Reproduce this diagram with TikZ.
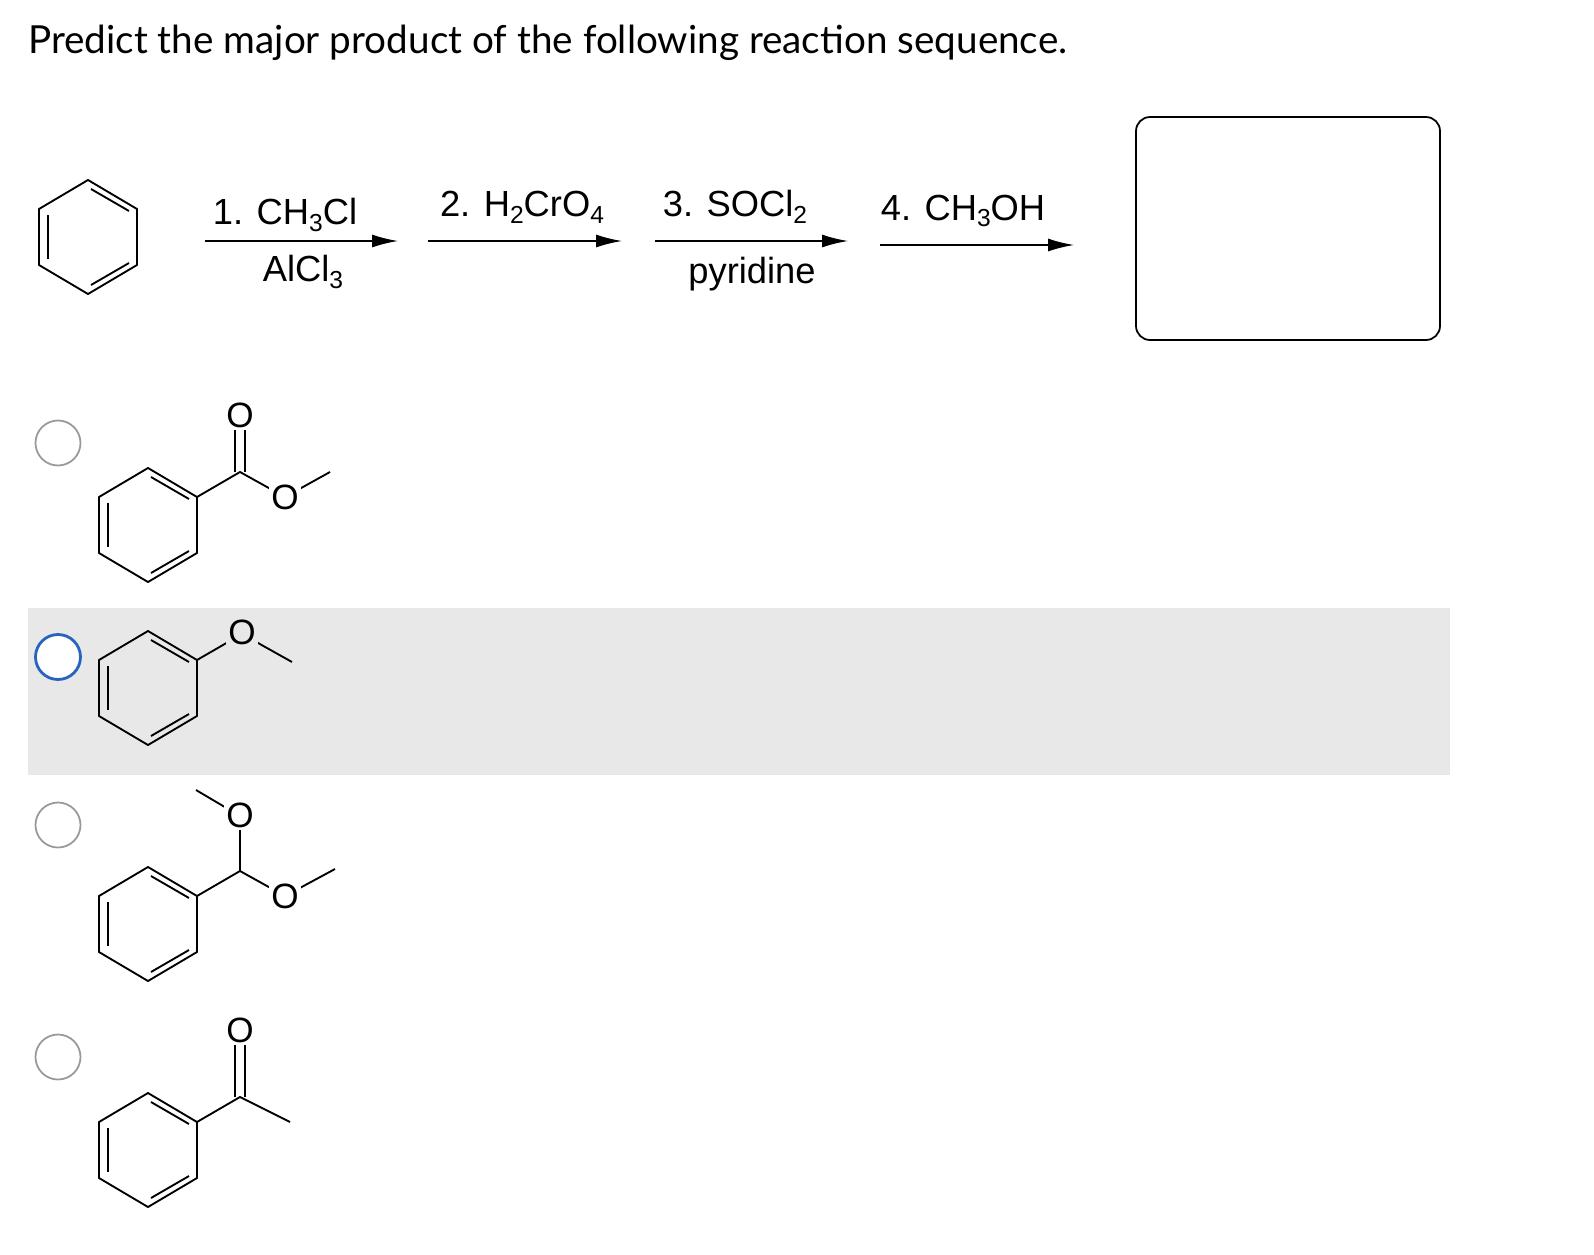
\documentclass[tikz,border=0pt]{standalone}
\usepackage{fontspec}
\setmainfont{Liberation Sans}
\newfontfamily\latofont{Lato}
\usetikzlibrary{arrows.meta}
\newcommand{\sbs}[1]{\raisebox{-0.35ex}{\fontsize{21}{23}\selectfont #1}}
\newcommand{\ringat}[2]{%
  \draw[bond] (#1+0,#2-57) -- (#1+49,#2-28) -- (#1+49,#2+28) -- (#1+0,#2+57) -- (#1-49,#2+28) -- (#1-49,#2-28) -- cycle;
  \draw[bond] (#1+3,#2-48) -- (#1+41,#2-26);
  \draw[bond] (#1-40,#2-22) -- (#1-40,#2+22);
  \draw[bond] (#1+3,#2+48) -- (#1+41,#2+26);
}
\begin{document}
\begin{tikzpicture}[x=0.03cm,y=-0.03cm,
  bond/.style={line width=1.6pt,line join=round},
  rxn/.style={line width=1.4pt,-{Latex[length=22pt,width=11pt]}},
  reag/.style={font=\fontsize{31}{34}\selectfont,inner sep=0pt},
  atom/.style={font=\fontsize{30}{32}\selectfont,inner sep=2pt,fill=white},
  radio/.style={draw=gray!80,line width=1.5pt,fill=white},
  ]
\useasboundingbox[fill=white] (0,0) rectangle (1594,1254);
\node[anchor=west,font=\latofont\fontsize{33}{38}\selectfont,inner sep=0pt] (title) at (28,43) {Predict the major product of the following reaction sequence.};
% reaction
\ringat{88}{237}
\coordinate (a1s) at (205,241); \coordinate (a1e) at (398,241);
\draw[rxn] (a1s) -- (a1e);
\node[reag] (r1a) at (285,215) {1. CH\sbs{3}Cl};
\node[reag] (r1b) at (303,272) {AlCl\sbs{3}};
\coordinate (a2s) at (428,241); \coordinate (a2e) at (622,241);
\draw[rxn] (a2s) -- (a2e);
\node[reag] (r2) at (522,207) {2. H\sbs{2}CrO\sbs{4}};
\coordinate (a3s) at (655,241); \coordinate (a3e) at (848,241);
\draw[rxn] (a3s) -- (a3e);
\node[reag] (r3a) at (735,207) {3. SOCl\sbs{2}};
\node[reag] (r3b) at (752,274) {pyridine};
\coordinate (a4s) at (880,245); \coordinate (a4e) at (1074,245);
\draw[rxn] (a4s) -- (a4e);
\node[reag] (r4) at (963,211) {4. CH\sbs{3}OH};
\draw[line width=1.5pt,rounded corners=12pt] (1136,117) rectangle (1440,340);
% band
\fill[gray!18] (28,608) rectangle (1450,775);
% radios
\node[radio,circle,minimum size=45*0.03cm] (c1) at (58,443) {};
\node[circle,draw={rgb,255:red,40;green,100;blue,190},line width=2.4pt,fill=white,minimum size=45*0.03cm] (c2) at (58,657) {};
\node[radio,circle,minimum size=45*0.03cm] (c3) at (58,825) {};
\node[radio,circle,minimum size=45*0.03cm] (c4) at (58,1057) {};
% option 1
\ringat{148}{525}
\draw[bond] (197,497) -- (240,472) -- (285,497) -- (330,472);
\draw[bond] (235,472) -- (235,430); \draw[bond] (245,472) -- (245,430);
\node[atom] (o1a) at (240,415) {O};
\node[atom] (o1b) at (285,497) {O};
% option 2
\ringat{148}{688}
\draw[bond] (197,660) -- (242,634) -- (292,662);
\node[atom,fill=gray!18] (o2) at (242,632) {O};
% option 3
\ringat{148}{924}
\draw[bond] (197,896) -- (240,871) -- (285,896) -- (335,869);
\draw[bond] (240,871) -- (240,816) -- (196,790);
\node[atom] (o3a) at (240,815) {O};
\node[atom] (o3b) at (285,896) {O};
% option 4
\ringat{148}{1150}
\draw[bond] (197,1122) -- (240,1097) -- (290,1122);
\draw[bond] (235,1097) -- (235,1045); \draw[bond] (245,1097) -- (245,1045);
\node[atom] (o4) at (240,1030) {O};
\end{tikzpicture}
\end{document}
